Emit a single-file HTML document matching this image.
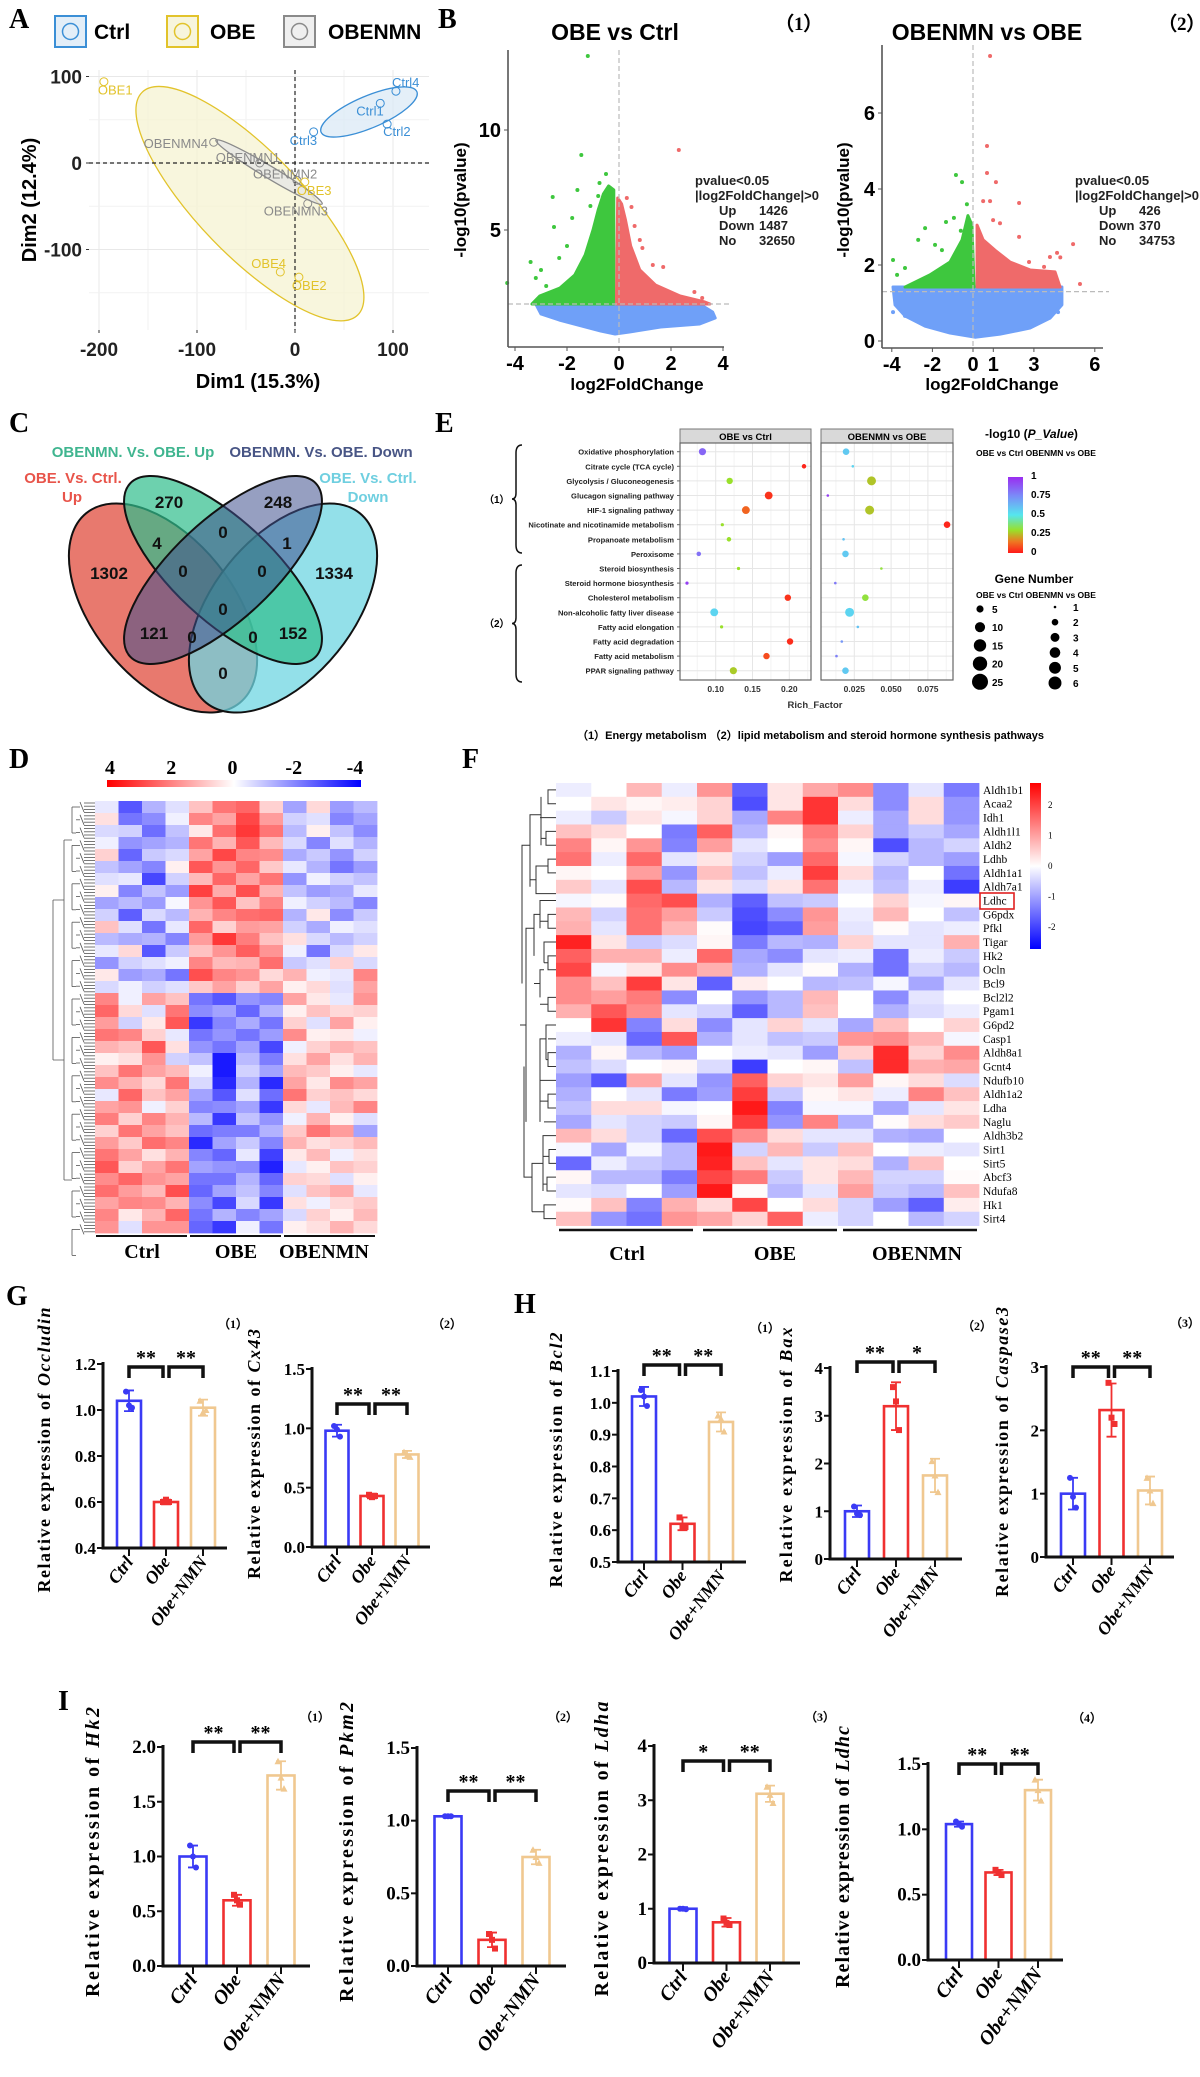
<!DOCTYPE html>
<html><head><meta charset="utf-8">
<style>
html,body{margin:0;padding:0;background:#fff;}
svg{display:block}
.sans{font-family:"Liberation Sans",Arial,sans-serif}
.serif{font-family:"Liberation Serif","Times New Roman",serif}
</style></head>
<body>
<svg id="fig" width="1200" height="2077" viewBox="0 0 1200 2077" xmlns="http://www.w3.org/2000/svg">
<defs>
<linearGradient id="gE" x1="0" y1="1" x2="0" y2="0">
<stop offset="0" stop-color="#ff1a1a"/><stop offset="0.15" stop-color="#ee7722"/><stop offset="0.3" stop-color="#99e02a"/><stop offset="0.5" stop-color="#55e6ee"/><stop offset="0.75" stop-color="#7a8cf8"/><stop offset="1" stop-color="#9a2cf0"/>
</linearGradient>
<linearGradient id="gD" x1="0" y1="0" x2="1" y2="0">
<stop offset="0" stop-color="#ff0000"/><stop offset="0.5" stop-color="#ffffff"/><stop offset="1" stop-color="#0000ff"/>
</linearGradient>
<linearGradient id="gF" x1="0" y1="0" x2="0" y2="1">
<stop offset="0" stop-color="#ff0000"/><stop offset="0.5" stop-color="#ffffff"/><stop offset="1" stop-color="#0000ff"/>
</linearGradient>
</defs>

<!-- Panel letters -->
<g class="serif" font-weight="bold" font-size="28" fill="#000">
<text x="9" y="28">A</text>
<text x="438" y="28">B</text>
<text x="9" y="432">C</text>
<text x="435" y="432">E</text>
<text x="9" y="768">D</text>
<text x="462" y="768">F</text>
<text x="6" y="1305">G</text>
<text x="514" y="1313">H</text>
<text x="58" y="1710">I</text>
</g>

<!-- PCA legend -->
<g class="sans" font-weight="bold" font-size="21">
<rect x="55" y="16" width="31" height="31" fill="#e3eef8" stroke="#3b8fd6" stroke-width="2"/>
<circle cx="70.5" cy="31.5" r="8" fill="none" stroke="#3b8fd6" stroke-width="1.5"/>
<text x="94" y="39">Ctrl</text>
<rect x="167" y="16" width="31" height="31" fill="#f7f5dc" stroke="#e2c32b" stroke-width="2"/>
<circle cx="182.5" cy="31.5" r="8" fill="none" stroke="#e2c32b" stroke-width="1.5"/>
<text x="210" y="39">OBE</text>
<rect x="284" y="16" width="31" height="31" fill="#efefef" stroke="#8a8a8a" stroke-width="2"/>
<circle cx="299.5" cy="31.5" r="8" fill="none" stroke="#8a8a8a" stroke-width="1.5"/>
<text x="328" y="39">OBENMN</text>
</g>
<g id="pca"></g>
<g id="volc"></g>

<!-- Venn -->
<g id="venn">
<g stroke="#111" stroke-width="2">
<ellipse cx="163" cy="608" rx="122" ry="70" transform="rotate(51 163 608)" fill="#e2584a" fill-opacity="0.8"/>
<ellipse cx="283" cy="608" rx="122" ry="70" transform="rotate(-51 283 608)" fill="#6fd6e2" fill-opacity="0.75"/>
<ellipse cx="223" cy="570" rx="127" ry="50" transform="rotate(43 223 570)" fill="#2fbd8c" fill-opacity="0.7"/>
<ellipse cx="223" cy="570" rx="127" ry="50" transform="rotate(-43 223 570)" fill="#40508e" fill-opacity="0.55"/>
</g>
<g class="sans" font-weight="bold" font-size="15" text-anchor="middle">
<text x="133" y="457" fill="#3fb58f">OBENMN. Vs. OBE. Up</text>
<text x="321" y="457" fill="#485585">OBENMN. Vs. OBE. Down</text>
<text x="73" y="483" fill="#e8544a">OBE. Vs. Ctrl.</text>
<text x="72" y="502" fill="#e8544a">Up</text>
<text x="368" y="483" fill="#6fcfe0">OBE. Vs. Ctrl.</text>
<text x="368" y="502" fill="#6fcfe0">Down</text>
</g>
<g id="vennNums" class="sans" font-weight="bold" font-size="17" text-anchor="middle" fill="#111"></g>
</g>

<g id="enrich"></g>
<g id="heatD"></g>
<g id="heatF"></g>
<g id="bars"></g>
</svg>

<script>
// ---------------- DATA ----------------
// PCA
const pcaNames=["OBE1","Ctrl4","Ctrl1","Ctrl2","Ctrl3","OBENMN4","OBENMN1","OBENMN2","OBE3","OBENMN3","OBE4","OBE2"];
const pcaGroup=["OBE","Ctrl","Ctrl","Ctrl","Ctrl","OBENMN","OBENMN","OBENMN","OBE","OBENMN","OBE","OBE"];
const pcaDim1=[-195,103,87,94,19,-83,-36,2,10,13,-15,4];
const pcaDim2=[94,83,69,45,36,24,0,-20,-22,-47,-126,-132];
const pcaXTicks=[-200,-100,0,100];
const pcaYTicks=[100,0,-100];
const pcaEllGroup=["OBE","Ctrl","OBENMN"];
const pcaEllCx=[-46,75.5,-26.5];
const pcaEllCy=[-47,59,-10.4];

// Volcano 1 (OBE vs Ctrl)
const v1Blue=[[-3.2,1.3],[3.1,1.3],[3.6,0.9],[3.7,0.6],[3.1,0.3],[1.6,0.15],[0.4,-0.1],[-0.15,-0.2],[-0.7,-0.05],[-2.3,0.5],[-3.0,0.8]];
const v1Green=[[-3.35,1.3],[-3.05,1.7],[-2.27,2.1],[-1.7,2.75],[-1.3,3.75],[-1.0,5.0],[-0.8,6.0],[-0.6,6.8],[-0.4,7.2],[-0.2,7.0],[-0.2,1.3]];
const v1Red=[[-0.1,1.3],[-0.05,6.6],[0.1,6.3],[0.25,5.5],[0.45,4.2],[0.8,3.0],[1.4,2.25],[2.35,1.7],[3.3,1.4],[3.5,1.3]];
const v1GreenPts=[[-1.2,13.7],[-1.45,8.75],[-1.6,7.0],[-2.55,6.65],[-2.5,5.15],[-3.4,3.4],[-4.3,2.35],[-3.0,3.0],[-2.0,4.2],[-1.8,5.6],[-2.3,3.6],[-3.2,2.6],[-2.8,2.2],[-0.75,7.35],[-0.8,6.7],[-0.5,7.8],[-1.1,6.2]];
const v1RedPts=[[2.3,9.0],[0.48,6.15],[0.8,4.5],[0.9,4.1],[1.3,3.25],[1.7,3.15],[2.9,1.9],[3.2,1.6],[2.1,1.75],[2.55,1.5],[0.3,6.6],[0.6,5.2]];
const v1BluePts=[[3.1,0.5],[3.6,0.6]];
const v1XTicks=[-4,-2,0,2,4];
const v1YTicks=[5,10];
const v1Stats=["1426","1487","32650"];
// Volcano 2 (OBENMN vs OBE)
const v2Blue=[[-3.94,1.42],[4.38,1.42],[4.38,0.95],[3.79,0.6],[2.81,0.34],[1.33,0.18],[0.1,0.1],[-1.13,0.21],[-2.36,0.39],[-3.35,0.66],[-3.84,0.95]];
const v2Green=[[-3.35,1.42],[-2.12,1.74],[-1.13,2.08],[-0.54,2.66],[-0.25,3.3],[-0.05,3.05],[0.05,1.42]];
const v2Red=[[0.2,1.42],[0.2,3.05],[0.5,2.66],[1.08,2.39],[1.82,2.08],[2.81,1.87],[4.04,1.82],[4.29,1.42]];
const v2GreenPts=[[-0.84,4.37],[-0.54,4.18],[-2.36,2.97],[-2.7,2.66],[-1.33,3.13],[-0.94,3.24],[-3.94,2.13],[-3.35,1.92],[-1.87,2.53],[-1.53,2.39],[-3.74,1.74],[-0.3,3.6],[-0.6,2.9]];
const v2RedPts=[[0.84,7.5],[0.69,5.13],[0.69,4.42],[1.13,4.18],[0.5,3.68],[0.84,3.68],[2.27,3.63],[0.99,3.18],[1.33,3.1],[2.27,2.74],[4.93,2.55],[5.27,1.5],[4.14,2.32],[3.79,2.21],[2.76,2.08],[3.5,1.95],[4.3,2.2]];
const v2BluePts=[[-3.94,0.76],[-3.35,0.66],[4.19,0.76]];
const v2XTicks=[-4,-2,0,1,3,6];
const v2YTicks=[0,2,4,6];
const v2Stats=["426","370","34753"];

// Venn counts
const vennCounts=["1302","270","248","1334","4","0","1","0","0","0","121","0","0","152","0"];
const vennPos=[[109,573],[169,502],[278,502],[334,573],[157,543],[223,532],[287,543],[183,571],[262,571],[223,609],[154,633],[192,637],[253,637],[293,633],[223,673]];

// Enrichment
const pathways=["Oxidative phosphorylation","Citrate cycle (TCA cycle)","Glycolysis / Gluconeogenesis","Glucagon signaling pathway","HIF-1 signaling pathway","Nicotinate and nicotinamide metabolism","Propanoate metabolism","Peroxisome","Steroid biosynthesis","Steroid hormone biosynthesis","Cholesterol metabolism","Non-alcoholic fatty liver disease","Fatty acid elongation","Fatty acid degradation","Fatty acid metabolism","PPAR signaling pathway"];
const richL=[0.082,0.220,0.119,0.172,0.141,0.109,0.118,0.077,0.131,0.061,0.198,0.098,0.108,0.201,0.169,0.124];
const pvalL=[0.85,0.02,0.3,0.04,0.12,0.3,0.3,0.82,0.3,0.95,0.04,0.55,0.3,0.03,0.08,0.27];
const countL=[5,2,4,6,6,1,2,2,1,1,4,6,1,4,4,5];
const richR=[0.0194,0.024,0.0367,0.007,0.0354,0.088,0.0177,0.019,0.0434,0.0121,0.0325,0.0218,0.0274,0.0165,0.0129,0.019];
const pvalR=[0.58,0.55,0.26,0.95,0.26,0.02,0.6,0.58,0.32,0.8,0.32,0.55,0.6,0.72,0.78,0.58];
const countR=[2,1,3,1,3,2,1,2,1,1,2,3,1,1,1,2];
const richTicksL=[0.10,0.15,0.20];
const richTicksR=[0.025,0.050,0.075];
const legCountL=[5,10,15,20,25];
const legCountR=[1,2,3,4,5,6];
const legColorTicks=["1","0.75","0.5","0.25","0"];

// Heatmap D (rows x 12 samples)
const heatD=[
[-0.3,-2.2,-1.0,-0.4,0.8,1.8,2.0,0.6,-1.2,0.5,-1.3,-0.9],
[0.4,-1.8,-1.5,-0.2,1.6,1.2,2.4,1.3,-0.6,-0.4,-1.6,-1.2],
[-0.5,-0.6,-1.9,-0.8,0.3,1.9,2.6,1.8,-0.9,0.2,-0.8,-1.5],
[-0.2,-1.4,-1.2,-1.0,1.8,1.0,2.2,0.9,-0.5,-1.6,-0.4,-1.0],
[0.6,-2.0,-0.7,-0.5,1.2,2.4,1.6,1.5,-1.1,-0.7,-1.4,-0.6],
[-0.8,-1.2,-1.6,0.2,2.2,1.4,2.0,0.7,-0.3,-1.0,-1.8,-1.3],
[-0.4,-0.3,-2.4,-0.6,0.9,2.0,1.2,1.8,-1.4,-0.2,-0.6,-0.8],
[0.2,-1.6,-0.8,-1.3,2.5,1.1,2.3,1.0,-0.8,-1.3,-1.1,-0.3],
[-1.2,-0.9,-1.3,-0.1,1.4,2.2,0.8,1.6,-0.2,-0.6,-0.9,-1.6],
[-0.6,-2.1,-0.5,-0.9,1.0,1.6,1.9,2.0,-1.0,0.3,-1.5,-0.7],
[0.8,-0.4,-1.8,-0.3,2.0,0.6,1.3,1.2,-0.6,-1.1,-0.2,-0.4],
[-0.9,-1.1,-1.0,-1.6,1.3,2.6,1.7,0.8,0.4,-0.5,-0.9,-0.6],
[-0.3,0.5,-2.2,-0.7,0.8,1.4,2.1,1.4,-0.2,-1.8,-0.5,0.3],
[-1.4,-0.6,-0.4,-0.2,1.6,0.9,1.0,1.9,-0.7,-0.4,0.6,-0.5],
[0.3,-1.3,-1.1,-1.8,2.3,1.6,1.4,0.5,1.0,-0.2,-0.3,1.6],
[-0.5,-0.2,-0.6,-0.4,0.7,1.2,0.6,1.2,0.2,0.5,-0.4,1.2],
[1.6,-0.2,1.2,0.8,-1.8,-2.2,-1.4,-1.6,1.2,0.3,-0.3,1.4],
[2.0,0.5,-0.4,1.8,-1.5,-1.2,-2.0,-1.0,0.2,0.8,0.5,0.6],
[1.3,-0.6,0.3,2.2,-2.6,-1.6,-1.1,-1.8,0.6,-0.4,1.2,0.2],
[1.8,1.6,0.6,-0.3,-1.8,-1.4,-1.8,-1.3,1.5,0.2,0.3,-0.2],
[1.0,0.8,2.2,0.4,-1.4,-1.8,-1.2,-2.4,-0.2,0.6,1.0,0.8],
[0.2,0.4,1.4,-0.6,-0.8,-3.0,-0.9,-1.7,0.4,1.2,0.4,1.0],
[0.8,1.8,1.2,0.9,-0.2,-3.4,-0.6,-1.2,0.9,0.7,0.2,-0.3],
[1.5,1.0,0.5,1.8,-0.5,-2.8,-1.0,-2.8,1.2,0.3,1.5,1.2],
[-0.3,2.0,0.8,1.2,-1.2,-2.2,-0.4,-1.9,1.8,0.6,0.8,0.5],
[1.2,1.4,-0.2,0.6,-1.6,-1.5,-1.2,-2.6,0.5,-0.3,0.9,1.6],
[1.7,0.6,1.6,1.0,-0.9,-2.6,-0.8,-1.4,-0.2,1.0,0.2,-0.4],
[0.6,1.8,1.2,0.8,-1.9,-1.7,-1.7,-1.0,0.7,1.8,1.3,-1.2],
[1.3,0.7,1.9,1.6,-2.8,-1.2,-0.7,-1.6,1.0,0.4,0.6,0.9],
[1.8,1.2,0.4,1.0,-1.6,-2.0,-0.3,-2.5,0.3,0.9,-0.2,0.4],
[2.2,0.6,1.2,1.8,-1.2,-1.4,-1.5,-2.9,-0.3,0.2,0.8,0.6],
[1.5,2.0,1.4,1.2,-1.8,-1.8,-1.0,-2.0,0.6,0.5,-0.4,0.2],
[1.9,1.3,0.9,2.3,-2.0,-1.2,-0.8,-1.6,-0.4,0.8,1.1,-0.3],
[1.2,1.6,1.5,1.0,-1.5,-2.4,-0.5,-2.6,0.4,-0.2,0.5,0.7],
[1.6,0.3,1.0,2.0,-1.8,-1.0,-1.6,-1.2,-0.5,0.6,0.2,0.9],
[1.4,-0.4,1.4,1.4,-2.0,-2.6,-0.2,-1.8,0.2,0.4,1.0,0.5]];
const heatDTicks=["4","2","0","-2","-4"];
const heatGroups=["Ctrl","OBE","OBENMN"];

// Heatmap F
const genesF=["Aldh1b1","Acaa2","Idh1","Aldh1l1","Aldh2","Ldhb","Aldh1a1","Aldh7a1","Ldhc","G6pdx","Pfkl","Tigar","Hk2","Ocln","Bcl9","Bcl2l2","Pgam1","G6pd2","Casp1","Aldh8a1","Gcnt4","Ndufb10","Aldh1a2","Ldha","Naglu","Aldh3b2","Sirt1","Sirt5","Abcf3","Ndufa8","Hk1","Sirt4"];
const heatF=[
[-0.2,0,0.8,-0.2,1.2,-1.8,0.3,1,1.3,-1.3,-0.3,-1.5],
[0,0.3,0.1,0.2,0.5,-2,0.3,2.3,0.4,-1.3,0.4,-1.2],
[-0.2,-0.6,0.3,-0.1,0.5,-1,1.4,2.3,-0.2,-1,0.4,-1.2],
[0.7,0.4,0,-1.5,1.8,-0.8,0.1,1.5,0.5,-1,-0.6,-1],
[1.4,0.1,1.2,-1.4,1.1,-0.3,0,1.3,0.1,-2,-0.8,-0.5],
[1.6,-0.2,1.7,-0.3,0.3,-0.5,-1.1,1.7,-0.1,-0.5,-0.8,-1.1],
[0.1,0,1.1,-1.2,0.7,-0.7,-0.2,2.2,0.4,-0.8,0,-1.6],
[0.6,-0.3,2.0,-0.8,0.3,-0.4,0.3,1.6,-0.2,-0.7,-0.2,-2.2],
[-0.1,0.05,1.7,2.0,-0.9,-1.8,-0.7,-0.6,0,0.5,-0.1,0.1],
[0.8,-0.5,1.6,1.1,-0.6,-2,-1.3,1.2,-0.2,0.8,0,-0.7],
[0.9,-0.3,1.6,0.8,0.05,-2.1,-1.8,1.1,-0.3,0.05,-0.3,-0.2],
[2.5,0.3,-0.6,-0.4,0.1,-1.5,-0.8,-0.9,0.5,-0.3,-0.3,0.9],
[1.8,0.9,0.9,-0.2,1.7,-1,-1.3,-0.3,-0.2,-1.6,-0.2,-0.6],
[2.1,-0.1,0.3,1.3,0.9,-0.9,-0.3,0.05,-0.9,-1.6,-0.5,-0.8],
[1.3,0.7,2.2,0.3,-1.8,0.2,0,-0.8,-0.7,-0.1,-1,-0.3],
[1.3,1.1,1.5,-1.3,0,-1.2,-0.8,0.8,0,-1.3,-0.3,0],
[0.9,1.9,1.3,-0.3,-0.5,-1.8,-0.8,0.7,0,-0.9,-0.4,-0.2],
[0,2.3,-1.4,0.4,-1.3,-0.3,0.5,-0.3,-1,0.7,0,0.5],
[-0.2,-0.3,-1.7,1.9,-0.9,-0.3,-0.7,-0.6,1.2,1.3,0.8,-0.1],
[-0.9,0.1,-0.8,-1.1,0,-0.2,-0.3,-1.1,0.5,2.4,0.5,1.3],
[-0.7,-0.4,0,0.1,-0.4,-2.2,0,0.1,-0.7,2.4,0.9,1],
[-1.1,-1.9,1,-0.3,-1.2,1.8,0.5,0.3,1.1,0.1,0.4,-0.4],
[-0.9,0,-0.3,-1.5,-1.1,2.2,-0.6,0.1,0.3,-0.2,1.4,0.7],
[-0.7,0.4,0.4,-0.1,0,2.6,-1.4,-0.1,-0.1,-1,-0.3,0.3],
[-1,-0.3,-0.5,-0.6,0.1,2.2,-1.2,1.4,-0.9,0.05,0.4,0.6],
[0.8,0.4,-0.5,-1.7,2,1.3,0.4,-0.3,-0.3,-0.9,-1,0],
[-0.1,-1,-0.1,-0.8,2.6,-0.5,0.8,-0.6,0.7,0,-0.2,-0.3],
[-1.7,-0.2,-0.6,-0.8,2.5,0.7,-0.3,0.3,0.4,-0.9,0.7,0],
[0.1,-0.8,-0.8,-1.5,2.1,1.5,-0.6,0.3,0.8,-0.5,-0.5,0.05],
[-0.3,-0.4,0,-1.1,2.6,0.05,-0.8,-0.3,1.1,-0.6,-0.8,0.7],
[0.05,0.7,-1.4,0.9,0.4,2.1,0,0.4,-0.5,-1.1,-1.8,0.2],
[0.7,-1.2,-1.6,1.2,1,0.5,1.8,-0.2,-0.5,0,-0.8,-0.5]];
const heatFTicks=[2,1,0,-1,-2];

// Bar charts (qPCR)
const barGroups=["Ctrl","Obe","Obe+NMN"];
const occludinMean=[1.04,0.60,1.01], occludinSD=[0.045,0.01,0.035], occludinPts=[[1.08,1.02,1.01],[0.60,0.61,0.60],[1.04,0.99,1.00]];
const cx43Mean=[0.98,0.43,0.78], cx43SD=[0.05,0.02,0.03], cx43Pts=[[1.02,0.99,0.93],[0.44,0.42,0.43],[0.80,0.77,0.76]];
const bcl2Mean=[1.02,0.62,0.94], bcl2SD=[0.03,0.02,0.03], bcl2Pts=[[1.04,1.02,0.99],[0.64,0.61,0.61],[0.96,0.95,0.91]];
const baxMean=[1.0,3.2,1.75], baxSD=[0.12,0.5,0.35], baxPts=[[1.1,0.95,0.92],[3.6,3.3,2.7],[2.05,1.75,1.4]];
const casp3Mean=[1.0,2.32,1.05], casp3SD=[0.25,0.42,0.22], casp3Pts=[[1.25,0.95,0.78],[2.75,2.2,2.1],[1.25,1.05,0.85]];
const hk2Mean=[1.0,0.6,1.74], hk2SD=[0.1,0.05,0.13], hk2Pts=[[1.1,1.0,0.9],[0.65,0.6,0.56],[1.87,1.72,1.62]];
const pkm2Mean=[1.03,0.18,0.75], pkm2SD=[0.01,0.05,0.05], pkm2Pts=[[1.03,1.03,1.03],[0.22,0.18,0.12],[0.80,0.75,0.71]];
const ldhaMean=[1.0,0.75,3.12], ldhaSD=[0.03,0.08,0.15], ldhaPts=[[1.0,1.0,0.99],[0.82,0.74,0.70],[3.25,3.1,2.95]];
const ldhcMean=[1.04,0.67,1.30], ldhcSD=[0.02,0.02,0.08], ldhcPts=[[1.06,1.04,1.02],[0.69,0.67,0.65],[1.38,1.30,1.22]];

// ---------------- HELPERS ----------------
const NS="http://www.w3.org/2000/svg";
function mk(tag,attrs,parent){const e=document.createElementNS(NS,tag);for(const k in attrs)e.setAttribute(k,attrs[k]);parent.appendChild(e);return e;}
function txt(str,attrs,parent){const e=mk("text",attrs,parent);e.textContent=str;return e;}
const $=id=>document.getElementById(id);

// ---------------- PCA ----------------
(function(){
const g=$("pca");
const px=v=>295+v*0.98, py=v=>163-v*0.865;
const col={Ctrl:"#3b8fd6",OBE:"#e2c32b",OBENMN:"#8a8a8a"};
const fillc={Ctrl:"#dbe9f6",OBE:"#f6f3d2",OBENMN:"#e6e6e6"};
for(let v=-200;v<=100;v+=50){const l=mk("line",{x1:px(v),x2:px(v),y1:70,y2:330,stroke:v%100===0?"#e8e8e8":"#f2f2f2","stroke-width":1},g);

}
for(let v=-150;v<=100;v+=50){const l=mk("line",{x1:89,x2:429,y1:py(v),y2:py(v),stroke:v%100===0?"#e8e8e8":"#f2f2f2","stroke-width":1},g);

}
const ell=[[155,52,46],[52,16,-23],[62,6,31]];
pcaEllGroup.forEach((gr,i)=>{const cx=px(pcaEllCx[i]),cy=py(pcaEllCy[i]);
const e=mk("ellipse",{cx:cx,cy:cy,rx:ell[i][0],ry:ell[i][1],transform:`rotate(${ell[i][2]} ${cx} ${cy})`,fill:fillc[gr],"fill-opacity":0.75,stroke:col[gr],"stroke-width":1.3},g);

});
const d1=mk("line",{x1:px(0),x2:px(0),y1:70,y2:330,stroke:"#222","stroke-dasharray":"4,3","stroke-width":1.2},g);


const d2=mk("line",{x1:89,x2:429,y1:py(0),y2:py(0),stroke:"#222","stroke-dasharray":"4,3","stroke-width":1.2},g);


const off=[[-6,13],[-4,-4],[-24,12],[-4,12],[-24,13],[-70,6],[-44,-1],[-44,-2],[-8,13],[-44,12],[-29,-4],[-7,13]];
pcaNames.forEach((n,i)=>{const x=px(pcaDim1[i]),y=py(pcaDim2[i]);
const c=mk("circle",{cx:x,cy:y,r:4,fill:"none",stroke:col[pcaGroup[i]],"stroke-width":1},g);


const t=txt(n,{x:x+off[i][0],y:y+off[i][1],fill:col[pcaGroup[i]],"font-size":13,class:"sans"},g);

});
pcaXTicks.forEach(v=>{const t=txt(String(v),{x:px(v),y:356,"text-anchor":"middle","font-size":19,"font-weight":"bold",class:"sans",fill:"#222"},g);


mk("line",{x1:px(v),x2:px(v),y1:330,y2:333,stroke:"#333"},g);});
pcaYTicks.forEach(v=>{const t=txt(String(v),{x:82,y:py(v)+7,"text-anchor":"end","font-size":19,"font-weight":"bold",class:"sans",fill:"#222"},g);


mk("line",{x1:86,x2:89,y1:py(v),y2:py(v),stroke:"#333"},g);});
const xt=txt("Dim1 (15.3%)",{x:258,y:388,"text-anchor":"middle","font-size":20,"font-weight":"bold",class:"sans"},g);


const yt=txt("Dim2 (12.4%)",{x:0,y:0,"text-anchor":"middle","font-size":20,"font-weight":"bold",class:"sans",transform:"translate(36,200) rotate(-90)"},g);


})();

// ---------------- VOLCANO ----------------
function volcano(cfg){
const g=mk("g",{},$("volc"));


const X=v=>cfg.x0+v*cfg.xs, Y=v=>cfg.y0-v*cfg.ys;
const poly=(arr,c,nm)=>{const p=mk("polygon",{points:arr.map(d=>X(d[0])+","+Y(d[1])).join(" "),fill:c,stroke:c,"stroke-width":3,"stroke-linejoin":"round"},g);

};
poly(cfg.blue,"#6fa0f8","volcano-not-significant-cloud");
poly(cfg.green,"#3ec73e","volcano-down-cloud");
poly(cfg.red,"#ef6a6a","volcano-up-cloud");
const pts=(arr,c,nm)=>arr.forEach(d=>{const p=mk("circle",{cx:X(d[0]),cy:Y(d[1]),r:2,fill:c},g);

});
pts(cfg.bluePts,"#6fa0f8","volcano-point-ns");
pts(cfg.greenPts,"#3ec73e","volcano-point-down");
pts(cfg.redPts,"#ef6a6a","volcano-point-up");
const vl=mk("line",{x1:X(0),x2:X(0),y1:cfg.top,y2:cfg.axisY,stroke:"#bbb","stroke-dasharray":"5,3","stroke-width":1.2},g);


const hl=mk("line",{x1:cfg.axisX,x2:cfg.xEnd+6,y1:Y(1.3),y2:Y(1.3),stroke:"#bbb","stroke-dasharray":"5,3","stroke-width":1.2},g);


mk("line",{x1:cfg.axisX,x2:cfg.axisX,y1:cfg.top,y2:cfg.axisY,stroke:"#555","stroke-width":1.6},g);
mk("line",{x1:cfg.axisX,x2:cfg.xEnd,y1:cfg.axisY,y2:cfg.axisY,stroke:"#555","stroke-width":1.6},g);
cfg.xt.forEach(v=>{mk("line",{x1:X(v),x2:X(v),y1:cfg.axisY,y2:cfg.axisY+4,stroke:"#555"},g);
const t=txt(String(v),{x:X(v),y:cfg.axisY+23,"text-anchor":"middle","font-size":20,"font-weight":"bold",class:"sans"},g);

});
cfg.yt.forEach(v=>{mk("line",{x1:cfg.axisX-4,x2:cfg.axisX,y1:Y(v),y2:Y(v),stroke:"#555"},g);
const t=txt(String(v),{x:cfg.axisX-7,y:Y(v)+7,"text-anchor":"end","font-size":20,"font-weight":"bold",class:"sans"},g);

});
const ti=txt(cfg.title,{x:cfg.titleX,y:40,"text-anchor":"middle","font-size":23,"font-weight":"bold",class:"sans"},g);


const nb=txt(cfg.num,{x:cfg.numX,y:30,"font-size":19,"font-weight":"bold",class:"serif"},g);


const xa=txt("log2FoldChange",{x:cfg.xTitleX,y:390,"text-anchor":"middle","font-size":17,"font-weight":"bold",class:"sans"},g);


const ya=txt("-log10(pvalue)",{x:0,y:0,"text-anchor":"middle","font-size":17,"font-weight":"bold",class:"sans",transform:`translate(${cfg.yTitleX},200) rotate(-90)`},g);


const sg=mk("g",{class:"sans","font-size":13,"font-weight":"bold",fill:"#222"},g);


txt("pvalue<0.05",{x:cfg.sx,y:185},sg);
txt("|log2FoldChange|>0",{x:cfg.sx,y:200},sg);
["Up","Down","No"].forEach((l,i)=>{txt(l,{x:cfg.sx2,y:215+i*15},sg);txt(cfg.stats[i],{x:cfg.sx3,y:215+i*15},sg);});
}
volcano({name:"volcano-obe-vs-ctrl",x0:619,xs:26,y0:330,ys:20,top:50,axisX:508,axisY:347,xEnd:724,blue:v1Blue,green:v1Green,red:v1Red,bluePts:v1BluePts,greenPts:v1GreenPts,redPts:v1RedPts,xt:v1XTicks,yt:v1YTicks,title:"OBE vs Ctrl",titleX:615,num:"（1）",numX:775,xTitleX:637,yTitleX:466,sx:695,sx2:719,sx3:759,stats:v1Stats});
volcano({name:"volcano-obenmn-vs-obe",x0:973,xs:20.3,y0:341,ys:38,top:45,axisX:882,axisY:348,xEnd:1103,blue:v2Blue,green:v2Green,red:v2Red,bluePts:v2BluePts,greenPts:v2GreenPts,redPts:v2RedPts,xt:v2XTicks,yt:v2YTicks,title:"OBENMN vs OBE",titleX:987,num:"（2）",numX:1158,xTitleX:992,yTitleX:849,sx:1075,sx2:1099,sx3:1139,stats:v2Stats});

// ---------------- VENN NUMBERS ----------------
vennCounts.forEach((c,i)=>{const t=txt(c,{x:vennPos[i][0],y:vennPos[i][1]+6},$("vennNums"));

});

// ---------------- ENRICHMENT ----------------
(function(){
const g=$("enrich");
const stops=[[0,[255,26,26]],[0.15,[238,119,34]],[0.3,[153,224,42]],[0.5,[85,230,238]],[0.75,[122,140,248]],[1,[154,44,240]]];
const cmap=v=>{for(let i=1;i<stops.length;i++){if(v<=stops[i][0]){const a=stops[i-1],b=stops[i],t=(v-a[0])/(b[0]-a[0]);return "rgb("+a[1].map((c,k)=>Math.round(c+(b[1][k]-c)*t)).join(",")+")";}}return "rgb(154,44,240)";};
const rowY=i=>451.7+i*14.6;
const facets=[{x1:680,x2:811,f:v=>715.7+(v-0.10)*736,rich:richL,p:pvalL,n:countL,r:n=>1.6*Math.sqrt(n),ticks:richTicksL,fmt:v=>v.toFixed(2),title:"OBE vs Ctrl",minor:[0.075,0.125,0.175,0.225]},
{x1:821,x2:953,f:v=>854.3+(v-0.025)*1472,rich:richR,p:pvalR,n:countR,r:n=>1.3+2*Math.log2(n),ticks:richTicksR,fmt:v=>v.toFixed(3),title:"OBENMN vs OBE",minor:[0.0125,0.0375,0.0625,0.0875]}];
facets.forEach((F,fi)=>{
const fg=mk("g",{},g);


mk("rect",{x:F.x1,y:429,width:F.x2-F.x1,height:14,fill:"#d9d9d9",stroke:"#777","stroke-width":1},fg);
const st=txt(F.title,{x:(F.x1+F.x2)/2,y:440,"text-anchor":"middle","font-size":9.5,"font-weight":"bold",class:"sans"},fg);


F.minor.forEach(v=>mk("line",{x1:F.f(v),x2:F.f(v),y1:443,y2:680,stroke:"#f3f3f3"},fg));
F.ticks.forEach(v=>mk("line",{x1:F.f(v),x2:F.f(v),y1:443,y2:680,stroke:"#e6e6e6"},fg));
pathways.forEach((p,i)=>mk("line",{x1:F.x1,x2:F.x2,y1:rowY(i),y2:rowY(i),stroke:"#e6e6e6"},fg));
pathways.forEach((p,i)=>{const c=mk("circle",{cx:F.f(F.rich[i]),cy:rowY(i),r:F.r(F.n[i]),fill:cmap(F.p[i])},fg);

});
mk("rect",{x:F.x1,y:443,width:F.x2-F.x1,height:237,fill:"none",stroke:"#666","stroke-width":1.2},fg);
F.ticks.forEach(v=>{const t=txt(F.fmt(v),{x:F.f(v),y:692,"text-anchor":"middle","font-size":8.5,"font-weight":"bold",class:"sans",fill:"#333"},fg);

});
});
pathways.forEach((p,i)=>{const t=txt(p,{x:674,y:rowY(i)+3,"text-anchor":"end","font-size":7.6,"font-weight":"bold",class:"sans",fill:"#222"},g);


mk("line",{x1:677,x2:680,y1:rowY(i),y2:rowY(i),stroke:"#666"},g);});
const rf=txt("Rich_Factor",{x:815,y:708,"text-anchor":"middle","font-size":9.5,"font-weight":"bold",class:"sans",fill:"#333"},g);


// braces
const br=(y1,y2,nm)=>{const m=(y1+y2)/2;const p=mk("path",{d:`M522,${y1} Q516,${y1} 516,${y1+8} L516,${m-6} Q516,${m} 512,${m} Q516,${m} 516,${m+6} L516,${y2-8} Q516,${y2} 522,${y2}`,fill:"none",stroke:"#111","stroke-width":1.5},g);

};
br(445,553,"brace-energy-metabolism");br(565,682,"brace-lipid-metabolism");
const n1=txt("（1）",{x:484,y:503,"font-size":10,"font-weight":"bold",class:"sans"},g);


const n2=txt("（2）",{x:484,y:627,"font-size":10,"font-weight":"bold",class:"sans"},g);


const cap=txt("（1）Energy metabolism   （2）lipid metabolism and steroid hormone synthesis pathways",{x:577,y:739,"font-size":11,"font-weight":"bold",class:"sans"},g);


// color legend
const lt=txt("-log10 (",{x:985,y:438,"font-size":12,"font-weight":"bold",class:"sans"},g);


const ts=mk("tspan",{"font-style":"italic"},lt);ts.textContent="P_Value";
const ts2=mk("tspan",{},lt);ts2.textContent=")";
txt("OBE vs Ctrl  OBENMN vs OBE",{x:1036,y:456,"text-anchor":"middle","font-size":8.5,"font-weight":"bold",class:"sans"},g);
const cb=mk("rect",{x:1008,y:477,width:15,height:76,fill:"url(#gE)"},g);


legColorTicks.forEach((l,i)=>{const t=txt(l,{x:1031,y:479+i*19,"font-size":10,"font-weight":"bold",class:"sans"},g);

});
const gn=txt("Gene Number",{x:1034,y:583,"text-anchor":"middle","font-size":12,"font-weight":"bold",class:"sans"},g);


txt("OBE vs Ctrl  OBENMN vs OBE",{x:1036,y:598,"text-anchor":"middle","font-size":8.5,"font-weight":"bold",class:"sans"},g);
legCountL.forEach((n,i)=>{const c=mk("circle",{cx:980,cy:609+i*18.2,r:1.6*Math.sqrt(n),fill:"#000"},g);


txt(String(n),{x:992,y:613+i*18.2,"font-size":10,"font-weight":"bold",class:"sans"},g);});
legCountR.forEach((n,i)=>{const c=mk("circle",{cx:1055,cy:607+i*15.2,r:1.3+2*Math.log2(n),fill:"#000"},g);


txt(String(n),{x:1073,y:611+i*15.2,"font-size":10,"font-weight":"bold",class:"sans"},g);});
})();

// ---------------- HEATMAPS ----------------
function rb(v,lim){let t=Math.max(-1,Math.min(1,v/lim));if(t>=0){const c=Math.round(255*(1-t*0.9));return `rgb(255,${c},${c})`;}t=-t;const c=Math.round(255*(1-t*0.9));return `rgb(${c},${c},255)`;}
(function(){
const g=$("heatD");
const x0=95,x1=377,y0=801,y1=1233,cw=(x1-x0)/12,rh=(y1-y0)/heatD.length;
heatD.forEach((row,r)=>row.forEach((v,c)=>{const e=mk("rect",{x:x0+c*cw,y:y0+r*rh,width:cw+0.4,height:rh+0.4,fill:rb(v,3)},g);

}));
// dendrogram (decorative)
const dg=mk("g",{stroke:"#555","stroke-width":0.8,fill:"none"},g);


for(let y=y0+2;y<y1;y+=3.2){mk("line",{x1:84,x2:95,y1:y,y2:y},dg);}
for(let y=y0;y<y1;y+=12.8){mk("line",{x1:80,x2:84,y1:y+1,y2:y+11},dg);mk("line",{x1:80,x2:76,y1:y+6,y2:y+6},dg);}
for(let y=y0;y<y1;y+=38.4){mk("line",{x1:72,x2:72,y1:y+6,y2:y+32},dg);mk("line",{x1:72,x2:76,y1:y+6,y2:y+6},dg);mk("line",{x1:72,x2:76,y1:y+32,y2:y+32},dg);}
mk("path",{d:"M64,840 L64,1180 M64,840 L72,840 M64,1180 L72,1180 M53,900 L53,1060 M53,900 L64,900 M53,1060 L64,1060"},dg);
const cbar=mk("rect",{x:107,y:780,width:254,height:7,fill:"url(#gD)"},g);


heatDTicks.forEach((l,i)=>{const t=txt(l,{x:110+i*61.25,y:774,"text-anchor":"middle","font-size":20,"font-weight":"bold",class:"serif"},g);

});
heatGroups.forEach((n,i)=>{mk("line",{x1:x0+1+i*cw*4,x2:x0+cw*4*(i+1)-2,y1:1236,y2:1236,stroke:"#111","stroke-width":2},g);
const t=txt(n,{x:x0+cw*4*(i+0.5)+(i===2?-6:0),y:1258,"text-anchor":"middle","font-size":20,"font-weight":"bold",class:"serif"},g);

});
})();
(function(){
const g=$("heatF");
const x0=556,x1=979,y0=783,rh=13.83,cw=(x1-x0)/12;
heatF.forEach((row,r)=>row.forEach((v,c)=>{const e=mk("rect",{x:x0+c*cw,y:y0+r*rh,width:cw+0.4,height:rh+0.4,fill:rb(v,2.6)},g);

}));
genesF.forEach((n,i)=>{const t=txt(n,{x:983,y:y0+i*rh+rh/2+4,"font-size":11.5,class:"serif"},g);

});
const box=mk("rect",{x:980,y:893,width:34,height:16,fill:"none",stroke:"#e02020","stroke-width":1.6},g);


const dg=mk("g",{stroke:"#333","stroke-width":1,fill:"none"},g);


const cy=i=>y0+i*rh+rh/2;
const pairs=[[0,1,548],[3,4,546],[5,6,548],[9,10,548],[12,13,548],[15,16,548],[19,20,548],[22,23,548],[26,27,549],[28,29,547],[30,31,544]];
pairs.forEach(p=>{mk("path",{d:`M556,${cy(p[0])} L${p[2]},${cy(p[0])} L${p[2]},${cy(p[1])} L556,${cy(p[1])}`},dg);});
mk("path",{d:`M556,${cy(2)} L540,${cy(2)} M541,${cy(0.5)} L541,${cy(4)} M546,${cy(3.5)} L541,${cy(3.5)} M541,${cy(1.8)} L530,${cy(1.8)} L530,${cy(7)} M548,${cy(5.5)} L536,${cy(5.5)} L536,${cy(7.5)} L556,${cy(7.5)} M536,${cy(6.5)} L530,${cy(6.5)}`},dg);
mk("path",{d:`M530,${cy(4)} L522,${cy(4)} L522,${cy(14)} M556,${cy(8)} L540,${cy(8)} L540,${cy(10)} M548,${cy(9.5)} L540,${cy(9.5)} M540,${cy(9)} L534,${cy(9)} L534,${cy(12)} M556,${cy(11)} L544,${cy(11)} L544,${cy(12.5)} M548,${cy(12.5)} L544,${cy(12.5)} M544,${cy(13)} L540,${cy(13)} L540,${cy(15)} M548,${cy(15.5)} L540,${cy(15.5)} M540,${cy(14)} L534,${cy(14)} M534,${cy(10)} L526,${cy(10)} L526,${cy(24)}`},dg);
mk("path",{d:`M556,${cy(17)} L546,${cy(17)} L546,${cy(19.5)} M556,${cy(18)} L548,${cy(18)} M548,${cy(19.5)} L546,${cy(19.5)} M546,${cy(18)} L540,${cy(18)} L540,${cy(24)} M556,${cy(21)} L540,${cy(21)} L540,${cy(23.5)} M548,${cy(22.5)} L540,${cy(22.5)} M556,${cy(24)} L544,${cy(24)} M556,${cy(25)} L543,${cy(25)} L543,${cy(29)} M547,${cy(28.5)} L543,${cy(28.5)} M549,${cy(26.5)} L543,${cy(26.5)} M543,${cy(27)} L532,${cy(27)} L532,${cy(30.5)} M544,${cy(30.5)} L532,${cy(30.5)} M532,${cy(28)} L524,${cy(28)} L524,${cy(20)} M526,${cy(17)} L520,${cy(17)}`},dg);
const cbar=mk("rect",{x:1030,y:783,width:11,height:166,fill:"url(#gF)"},g);


heatFTicks.forEach(v=>{const t=txt(String(v),{x:1048,y:866-v*30.5+3,"font-size":9,class:"serif"},g);

});
const gl=[[559,693,627],[703,837,775],[843,977,917]];
heatGroups.forEach((n,i)=>{mk("line",{x1:gl[i][0],x2:gl[i][1],y1:1230,y2:1230,stroke:"#111","stroke-width":2.5},g);
const t=txt(n,{x:gl[i][2],y:1260,"text-anchor":"middle","font-size":20,"font-weight":"bold",class:"serif"},g);

});
})();

// ---------------- BAR CHARTS ----------------
const barColors=["#3a3af5","#f03030","#f0c890"];
function barChart(c){
const g=mk("g",{},$("bars"));


const Y=v=>c.yBot-(v-c.vmin)/(c.vmax-c.vmin)*(c.yBot-c.yTop);
const bx=i=>c.x0+c.first+i*c.step;
c.mean.forEach((m,i)=>{
const b=mk("rect",{x:bx(i)-c.bw/2,y:Y(m),width:c.bw,height:c.yBot-Y(m),fill:"#fff",stroke:barColors[i],"stroke-width":2.6},g);


const e=mk("path",{d:`M${bx(i)},${Y(m-c.sd[i])} L${bx(i)},${Y(m+c.sd[i])} M${bx(i)-5},${Y(m+c.sd[i])} L${bx(i)+5},${Y(m+c.sd[i])} M${bx(i)-5},${Y(m-c.sd[i])} L${bx(i)+5},${Y(m-c.sd[i])}`,stroke:barColors[i],"stroke-width":1.8,fill:"none"},g);


c.pts[i].forEach((v,k)=>{const px=bx(i)+(k-1)*3,py=Y(v);let p;
if(i===0)p=mk("circle",{cx:px,cy:py,r:3,fill:barColors[i]},g);
else if(i===1)p=mk("rect",{x:px-3,y:py-3,width:6,height:6,fill:barColors[i]},g);
else p=mk("path",{d:`M${px},${py-3.5} L${px+3.5},${py+3} L${px-3.5},${py+3} Z`,fill:barColors[i]},g);

});
});
mk("line",{x1:c.x0,x2:c.x0,y1:c.yTop-2,y2:c.yBot+1.5,stroke:"#111","stroke-width":3},g);
mk("line",{x1:c.x0-1.5,x2:c.xEnd,y1:c.yBot,y2:c.yBot,stroke:"#111","stroke-width":3},g);
c.ticks.forEach(v=>{mk("line",{x1:c.x0-6,x2:c.x0,y1:Y(v),y2:Y(v),stroke:"#111","stroke-width":2},g);
const t=txt(c.fmt(v),{x:c.x0-7,y:Y(v)+6,"text-anchor":"end","font-size":c.fs,"font-weight":"bold",class:"serif"},g);

});
barGroups.forEach((n,i)=>{mk("line",{x1:bx(i),x2:bx(i),y1:c.yBot,y2:c.yBot+8,stroke:"#111","stroke-width":2},g);
const t=txt(n,{x:0,y:0,"text-anchor":"end","font-size":c.fs+1,"font-weight":"bold","font-style":"italic",class:"serif",transform:`translate(${bx(i)+5},${c.yBot+14}) rotate(-53)`},g);

});
c.sig.forEach((s,k)=>{const a=bx(k)+(k===0?0:3),b=bx(k+1)-(k===0?3:0);
const br=mk("path",{d:`M${a},${c.brY+11} L${a},${c.brY} L${b},${c.brY} L${b},${c.brY+11}`,fill:"none",stroke:"#111","stroke-width":3.5},g);


const t=txt(s,{x:(a+b)/2,y:c.brY-3,"text-anchor":"middle","font-size":20,"font-weight":"bold",class:"serif"},g);

});
const nb=txt(c.num,{x:c.numX,y:c.numY,"font-size":12,class:"serif","font-weight":"bold"},g);


const tt=txt("Relative  expression of ",{x:0,y:0,"text-anchor":"middle","font-size":c.fs+1,"font-weight":"bold",class:"serif",textLength:c.tLen,lengthAdjust:"spacing",transform:`translate(${c.tX},${c.tCy}) rotate(-90)`},g);


const it=mk("tspan",{"font-style":"italic"},tt);it.textContent=c.gene;
}
const f1=v=>v.toFixed(1), f0=v=>String(v);
barChart({gene:"Occludin",mean:occludinMean,sd:occludinSD,pts:occludinPts,x0:103,xEnd:227,yTop:1364,yBot:1548,vmin:0.4,vmax:1.2,ticks:[0.4,0.6,0.8,1.0,1.2],fmt:f1,first:26,step:37,bw:24,sig:["**","**"],brY:1367,num:"（1）",numX:218,numY:1328,tX:50,tCy:1450,tLen:285,fs:17});
barChart({gene:"Cx43",mean:cx43Mean,sd:cx43SD,pts:cx43Pts,x0:312,xEnd:430,yTop:1369,yBot:1547,vmin:0,vmax:1.5,ticks:[0,0.5,1.0,1.5],fmt:f1,first:25,step:35,bw:23,sig:["**","**"],brY:1404,num:"（2）",numX:432,numY:1328,tX:260,tCy:1454,tLen:250,fs:17});
barChart({gene:"Bcl2",mean:bcl2Mean,sd:bcl2SD,pts:bcl2Pts,x0:618,xEnd:746,yTop:1371,yBot:1562,vmin:0.5,vmax:1.1,ticks:[0.5,0.6,0.7,0.8,0.9,1.0,1.1],fmt:f1,first:26,step:38.5,bw:24,sig:["**","**"],brY:1365,num:"（1）",numX:750,numY:1332,tX:562,tCy:1460,tLen:255,fs:17});
barChart({gene:"Bax",mean:baxMean,sd:baxSD,pts:baxPts,x0:830,xEnd:962,yTop:1368,yBot:1559,vmin:0,vmax:4,ticks:[0,1,2,3,4],fmt:f0,first:27,step:39,bw:24,sig:["**","*"],brY:1362,num:"（2）",numX:962,numY:1330,tX:792,tCy:1455,tLen:255,fs:17});
barChart({gene:"Caspase3",mean:casp3Mean,sd:casp3SD,pts:casp3Pts,x0:1046,xEnd:1174,yTop:1367,yBot:1557,vmin:0,vmax:3,ticks:[0,1,2,3],fmt:f0,first:27,step:38.5,bw:24,sig:["**","**"],brY:1367,num:"（3）",numX:1170,numY:1327,tX:1008,tCy:1452,tLen:290,fs:17});
barChart({gene:"Hk2",mean:hk2Mean,sd:hk2SD,pts:hk2Pts,x0:163,xEnd:310,yTop:1747,yBot:1966,vmin:0,vmax:2,ticks:[0,0.5,1.0,1.5,2.0],fmt:f1,first:30,step:44,bw:27,sig:["**","**"],brY:1742,num:"（1）",numX:300,numY:1721,tX:99,tCy:1852,tLen:290,fs:19});
barChart({gene:"Pkm2",mean:pkm2Mean,sd:pkm2SD,pts:pkm2Pts,x0:417,xEnd:566,yTop:1748,yBot:1966,vmin:0,vmax:1.5,ticks:[0,0.5,1.0,1.5],fmt:f1,first:31,step:44,bw:27,sig:["**","**"],brY:1791,num:"（2）",numX:548,numY:1721,tX:353,tCy:1852,tLen:300,fs:19});
barChart({gene:"Ldha",mean:ldhaMean,sd:ldhaSD,pts:ldhaPts,x0:654,xEnd:800,yTop:1746,yBot:1963,vmin:0,vmax:4,ticks:[0,1,2,3,4],fmt:f0,first:29,step:43.5,bw:27,sig:["*","**"],brY:1761,num:"（3）",numX:805,numY:1721,tX:608,tCy:1849,tLen:295,fs:19});
barChart({gene:"Ldhc",mean:ldhcMean,sd:ldhcSD,pts:ldhcPts,x0:928,xEnd:1063,yTop:1764,yBot:1960,vmin:0,vmax:1.5,ticks:[0,0.5,1.0,1.5],fmt:f1,first:31,step:39.5,bw:26,sig:["**","**"],brY:1764,num:"（4）",numX:1072,numY:1722,tX:849,tCy:1857,tLen:262,fs:19});
</script>
</body></html>
